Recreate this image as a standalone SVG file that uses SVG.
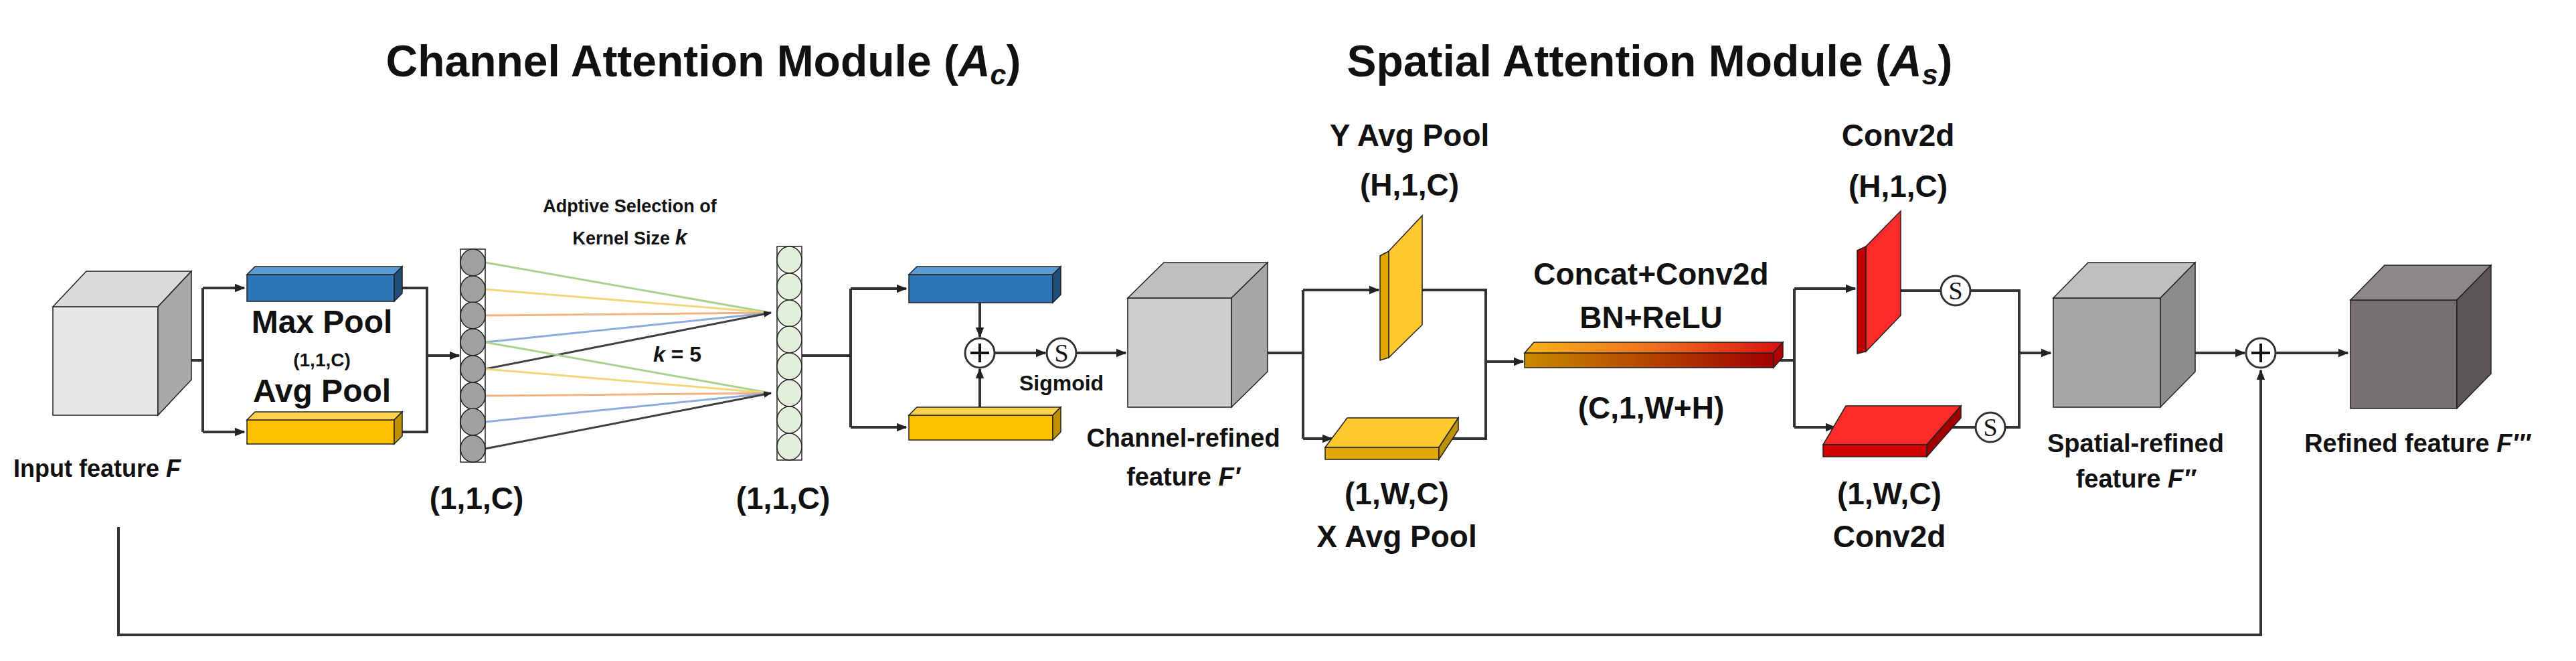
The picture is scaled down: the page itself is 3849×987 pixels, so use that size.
<svg xmlns="http://www.w3.org/2000/svg" width="3849" height="987" viewBox="0 0 3849 987">
<defs>
<style>
.t{font-family:"Liberation Sans Narrow","Liberation Sans",Arial,sans-serif;font-weight:bold;fill:#111;text-anchor:middle}
.ln{fill:none;stroke:#333;stroke-width:4}
.fan{fill:none;stroke-width:3}
.k{stroke:#222;stroke-width:1.5}
.op{fill:#fff;stroke:#333;stroke-width:3}
</style>
<marker id="ar" viewBox="0 0 10 10" refX="9" refY="5" markerWidth="4" markerHeight="4" orient="auto" markerUnits="strokeWidth"><path d="M0,1 L10,5 L0,9 z" fill="#222"/></marker>
<linearGradient id="gr" x1="0" y1="0" x2="1" y2="0"><stop offset="0" stop-color="#f6b21a"/><stop offset="0.5" stop-color="#f07020"/><stop offset="1" stop-color="#d81010"/></linearGradient>
<linearGradient id="grd" x1="0" y1="0" x2="1" y2="0"><stop offset="0" stop-color="#c88a00"/><stop offset="1" stop-color="#a00000"/></linearGradient>
</defs>
<rect width="3849" height="987" fill="#fff"/>

<text class="t" x="1051" y="114" font-size="66">Channel Attention Module (<tspan font-style="italic">A</tspan><tspan font-size="43" dy="12" font-style="italic">c</tspan><tspan dy="-12">)</tspan></text>
<text class="t" x="2465" y="114" font-size="66">Spatial Attention Module (<tspan font-style="italic">A</tspan><tspan font-size="43" dy="12" font-style="italic">s</tspan><tspan dy="-12">)</tspan></text>

<g id="connectors">
<path class="ln" d="M236,538 H303 M303,430 V645"/>
<path class="ln" d="M303,430 H365" marker-end="url(#ar)"/>
<path class="ln" d="M303,645 H365" marker-end="url(#ar)"/>
<path class="ln" d="M601,430 H638 V645 H601"/>
<path class="ln" d="M638,531 H686" marker-end="url(#ar)"/>
<g class="fan">
<path d="M725,392 L1152,467" stroke="#a9d18e"/>
<path d="M725,432 L1152,467" stroke="#f2d77a"/>
<path d="M725,471 L1152,467" stroke="#f4b183"/>
<path d="M725,511 L1152,467" stroke="#8faadc"/>
<path d="M725,551 L1152,467" stroke="#404040" marker-end="url(#ar)"/>
<path d="M725,511 L1152,587" stroke="#a9d18e"/>
<path d="M725,551 L1152,587" stroke="#f2d77a"/>
<path d="M725,591 L1152,587" stroke="#f4b183"/>
<path d="M725,630 L1152,587" stroke="#8faadc"/>
<path d="M725,670 L1152,587" stroke="#404040" marker-end="url(#ar)"/>
</g>
<path class="ln" d="M1198,531 H1271 M1271,431 V638"/>
<path class="ln" d="M1271,431 H1354" marker-end="url(#ar)"/>
<path class="ln" d="M1271,638 H1354" marker-end="url(#ar)"/>
<path class="ln" d="M1464,452 V503" marker-end="url(#ar)" stroke-width="3"/>
<path class="ln" d="M1464,620 V551" marker-end="url(#ar)" stroke-width="3"/>
<path class="ln" d="M1486,527 H1562" marker-end="url(#ar)"/>
<path class="ln" d="M1608,527 H1682" marker-end="url(#ar)"/>
<path class="ln" d="M1840,527 H1947 M1947,433 V655"/>
<path class="ln" d="M1947,433 H2060" marker-end="url(#ar)"/>
<path class="ln" d="M1947,655 H1990" marker-end="url(#ar)"/>
<path class="ln" d="M2125,433 H2220 V655 H2165"/>
<path class="ln" d="M2220,540 H2276" marker-end="url(#ar)"/>
<path class="ln" d="M2657,538 H2681 M2681,431 V638"/>
<path class="ln" d="M2681,431 H2772" marker-end="url(#ar)"/>
<path class="ln" d="M2681,638 H2742" marker-end="url(#ar)"/>
<path class="ln" d="M2840,434 H2900 M2944,434 H3017 V638 H2996 M2905,638 H2952"/>
<path class="ln" d="M3017,527 H3064" marker-end="url(#ar)"/>
<path class="ln" d="M3228,527 H3354" marker-end="url(#ar)"/>
<path class="ln" d="M3400,527 H3508" marker-end="url(#ar)"/>
<path class="ln" d="M177,787 V948 H3378 V553" stroke-width="5" marker-end="url(#ar)"/>
</g>

<g id="input-cube">
<rect x="79" y="458" width="157" height="162" fill="#e7e7e7" class="k"/>
<polygon points="79,458 129,405 286,405 236,458" fill="#dadada" class="k"/>
<polygon points="236,458 286,405 286,567 236,620" fill="#a9a9a9" class="k"/>
<text class="t" x="20" y="712" font-size="36" style="text-anchor:start">Input feature <tspan font-style="italic">F</tspan></text>
</g>

<g id="max-pool">
<rect x="369" y="410" width="220" height="40" fill="#2e75b6" class="k"/>
<polygon points="369,410 381,398 601,398 589,410" fill="#5b9bd5" class="k"/>
<polygon points="589,410 601,398 601,438 589,450" fill="#1f4e79" class="k"/>
<text class="t" x="481" y="497" font-size="48">Max Pool</text>
<text class="t" x="481" y="547" font-size="28">(1,1,C)</text>
</g>
<g id="avg-pool">
<rect x="369" y="627" width="220" height="36" fill="#ffc000" class="k"/>
<polygon points="369,627 381,615 601,615 589,627" fill="#ffd24d" class="k"/>
<polygon points="589,627 601,615 601,651 589,663" fill="#bf9000" class="k"/>
<text class="t" x="481" y="600" font-size="48">Avg Pool</text>
</g>

<g id="gray-column">
<rect x="688" y="372" width="37" height="318" fill="#fff" class="k"/>
<g fill="#a0a0a0" class="k">
<ellipse cx="706.5" cy="392" rx="18.5" ry="19.9"/><ellipse cx="706.5" cy="432" rx="18.5" ry="19.9"/>
<ellipse cx="706.5" cy="471" rx="18.5" ry="19.9"/><ellipse cx="706.5" cy="511" rx="18.5" ry="19.9"/>
<ellipse cx="706.5" cy="551" rx="18.5" ry="19.9"/><ellipse cx="706.5" cy="591" rx="18.5" ry="19.9"/>
<ellipse cx="706.5" cy="630" rx="18.5" ry="19.9"/><ellipse cx="706.5" cy="670" rx="18.5" ry="19.9"/>
</g>
<text class="t" x="712" y="760" font-size="46">(1,1,C)</text>
</g>

<g id="kernel-label">
<text class="t" x="941" y="317" font-size="27">Adptive Selection of</text>
<text class="t" x="941" y="365" font-size="27">Kernel Size  <tspan font-style="italic" font-size="32">k</tspan></text>
<text class="t" x="1012" y="540" font-size="32"><tspan font-style="italic">k</tspan> = 5</text>
</g>

<g id="green-column">
<rect x="1161" y="368" width="37" height="319" fill="#fff" class="k"/>
<g fill="#e2efda" class="k">
<ellipse cx="1179.5" cy="388" rx="18.5" ry="19.9"/><ellipse cx="1179.5" cy="428" rx="18.5" ry="19.9"/>
<ellipse cx="1179.5" cy="468" rx="18.5" ry="19.9"/><ellipse cx="1179.5" cy="507" rx="18.5" ry="19.9"/>
<ellipse cx="1179.5" cy="547" rx="18.5" ry="19.9"/><ellipse cx="1179.5" cy="587" rx="18.5" ry="19.9"/>
<ellipse cx="1179.5" cy="627" rx="18.5" ry="19.9"/><ellipse cx="1179.5" cy="667" rx="18.5" ry="19.9"/>
</g>
<text class="t" x="1170" y="760" font-size="46">(1,1,C)</text>
</g>

<g id="max-pool-2">
<rect x="1358" y="410" width="215" height="42" fill="#2e75b6" class="k"/>
<polygon points="1358,410 1370,398 1585,398 1573,410" fill="#5b9bd5" class="k"/>
<polygon points="1573,410 1585,398 1585,440 1573,452" fill="#1f4e79" class="k"/>
</g>
<g id="avg-pool-2">
<rect x="1358" y="620" width="215" height="37" fill="#ffc000" class="k"/>
<polygon points="1358,620 1370,608 1585,608 1573,620" fill="#ffd24d" class="k"/>
<polygon points="1573,620 1585,608 1585,645 1573,657" fill="#bf9000" class="k"/>
</g>

<g id="add-1">
<circle cx="1464" cy="527" r="22" class="op"/>
<path d="M1464,513 V541 M1450,527 H1478" stroke="#111" stroke-width="4"/>
</g>
<g id="sigmoid-1">
<circle cx="1586" cy="527" r="22" class="op"/>
<text x="1586" y="540" font-family="Liberation Serif,serif" font-size="38" text-anchor="middle" fill="#111">S</text>
<text class="t" x="1586" y="583" font-size="32">Sigmoid</text>
</g>

<g id="channel-refined-cube">
<rect x="1685" y="445" width="155" height="163" fill="#d0cece" class="k"/>
<polygon points="1685,445 1739,392 1894,392 1840,445" fill="#bfbfbf" class="k"/>
<polygon points="1840,445 1894,392 1894,555 1840,608" fill="#a6a6a6" class="k"/>
<text class="t" x="1768" y="667" font-size="38">Channel-refined</text>
<text class="t" x="1768" y="725" font-size="38">feature <tspan font-style="italic">F′</tspan></text>
</g>

<g id="y-avg-pool">
<polygon points="2075,375 2125,322 2125,485 2075,534" fill="#ffc82e" class="k"/>
<polygon points="2062,382 2075,375 2075,534 2062,538" fill="#e0a800" class="k"/>
<text class="t" x="2106" y="218" font-size="46">Y Avg Pool</text>
<text class="t" x="2106" y="292" font-size="46">(H,1,C)</text>
</g>
<g id="x-avg-pool">
<polygon points="2013,624 2179,624 2150,668 1980,668" fill="#ffc82e" class="k"/>
<rect x="1980" y="668" width="170" height="18" fill="#e0a800" class="k"/>
<polygon points="2150,668 2179,624 2179,642 2150,686" fill="#bf9000" class="k"/>
<text class="t" x="2087" y="753" font-size="46">(1,W,C)</text>
<text class="t" x="2087" y="817" font-size="46">X Avg Pool</text>
</g>

<g id="concat-conv">
<rect x="2278" y="527" width="372" height="22" fill="url(#grd)" class="k"/>
<polygon points="2278,527 2292,511 2664,511 2650,527" fill="url(#gr)" class="k"/>
<polygon points="2650,527 2664,511 2664,533 2650,549" fill="#b00000" class="k"/>
<text class="t" x="2467" y="425" font-size="46">Concat+Conv2d</text>
<text class="t" x="2467" y="490" font-size="46">BN+ReLU</text>
<text class="t" x="2467" y="625" font-size="46">(C,1,W+H)</text>
</g>

<g id="conv-h">
<polygon points="2788,368 2840,315 2840,471 2788,525" fill="#ff2a2a" class="k"/>
<polygon points="2775,374 2788,368 2788,525 2775,528" fill="#c00000" class="k"/>
<text class="t" x="2836" y="218" font-size="46">Conv2d</text>
<text class="t" x="2836" y="294" font-size="46">(H,1,C)</text>
</g>
<g id="conv-w">
<polygon points="2758,606 2930,606 2879,664 2724,664" fill="#ff2a2a" class="k"/>
<rect x="2724" y="664" width="155" height="18" fill="#d00000" class="k"/>
<polygon points="2879,664 2930,606 2930,624 2879,682" fill="#a00000" class="k"/>
<text class="t" x="2823" y="753" font-size="46">(1,W,C)</text>
<text class="t" x="2823" y="817" font-size="46">Conv2d</text>
</g>
<g id="sigmoid-h">
<circle cx="2922" cy="434" r="22" class="op"/>
<text x="2922" y="447" font-family="Liberation Serif,serif" font-size="38" text-anchor="middle" fill="#111">S</text>
</g>
<g id="sigmoid-w">
<circle cx="2974" cy="638" r="22" class="op"/>
<text x="2974" y="651" font-family="Liberation Serif,serif" font-size="38" text-anchor="middle" fill="#111">S</text>
</g>

<g id="spatial-refined-cube">
<rect x="3068" y="445" width="160" height="163" fill="#a6a6a6" class="k"/>
<polygon points="3068,445 3120,392 3280,392 3228,445" fill="#bfbfbf" class="k"/>
<polygon points="3228,445 3280,392 3280,555 3228,608" fill="#8c8c8c" class="k"/>
<text class="t" x="3191" y="675" font-size="38">Spatial-refined</text>
<text class="t" x="3191" y="728" font-size="38">feature <tspan font-style="italic">F′′</tspan></text>
</g>

<g id="add-2">
<circle cx="3378" cy="527" r="22" class="op"/>
<path d="M3378,513 V541 M3364,527 H3392" stroke="#111" stroke-width="4"/>
</g>

<g id="refined-cube">
<rect x="3512" y="448" width="159" height="162" fill="#767171" class="k"/>
<polygon points="3512,448 3563,396 3722,396 3671,448" fill="#8c8888" class="k"/>
<polygon points="3671,448 3722,396 3722,558 3671,610" fill="#5a5656" class="k"/>
<text class="t" x="3612" y="675" font-size="38">Refined feature <tspan font-style="italic">F′′′</tspan></text>
</g>
</svg>
